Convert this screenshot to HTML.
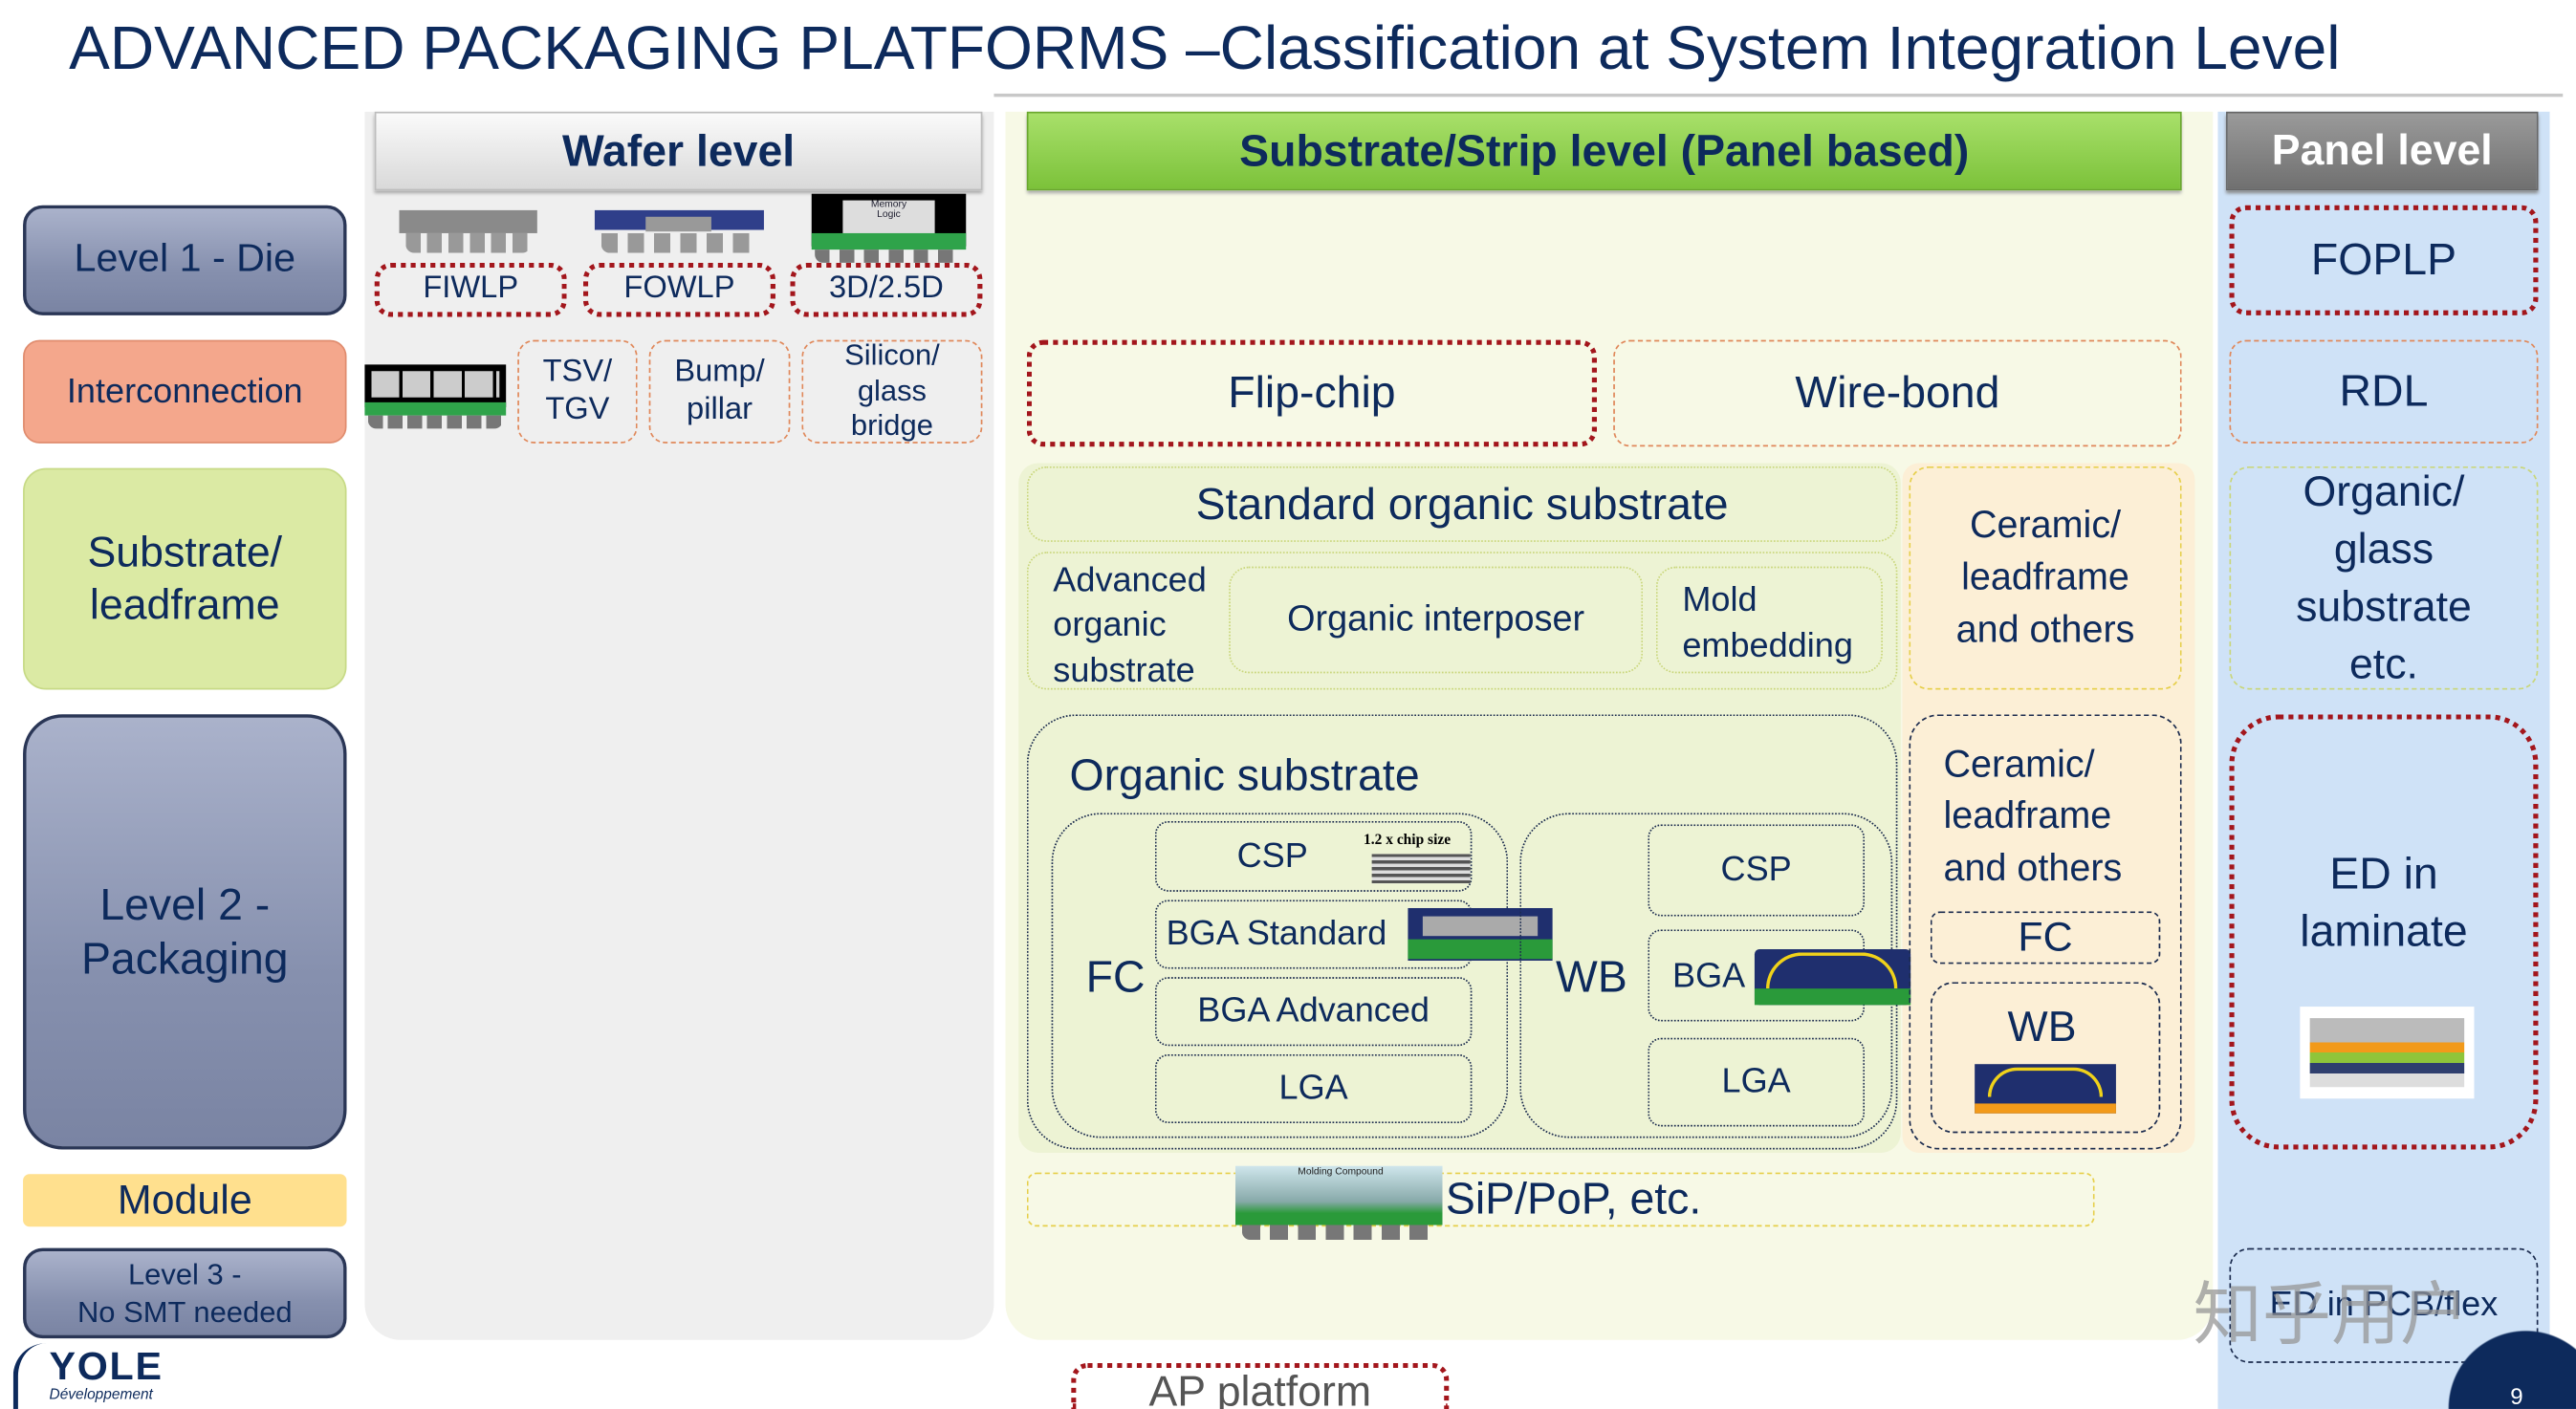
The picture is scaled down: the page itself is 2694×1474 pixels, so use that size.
<!DOCTYPE html>
<html><head><meta charset="utf-8">
<style>
html,body{margin:0;padding:0;background:#fff;width:2694px;height:1474px;overflow:hidden;}
body{position:relative;}
#c{position:absolute;left:0;top:0;width:1568px;height:858px;overflow:hidden;transform:scale(1.71811,1.7179);transform-origin:0 0;font-family:"Liberation Sans Narrow","Liberation Sans",sans-serif;color:#0d2a5c;}
.a{position:absolute;box-sizing:border-box;}
.b{position:absolute;box-sizing:border-box;display:flex;align-items:center;justify-content:center;text-align:center;line-height:1.2;color:#0d2a5c;}
.rd{border:3px dotted #a3161c;border-radius:10px;}
.od{border:1.5px dashed #e0885a;border-radius:10px;}
.gd{border:1.5px dotted #c9d67a;border-radius:12px;}
.yd{border:1.5px dashed #e6cf4a;border-radius:12px;}
.nd{border:1.5px dashed #1b2b4e;border-radius:12px;}
.nt{border:1.5px dotted #1b2b4e;border-radius:14px;}
.lv{border:2px solid #2a3656;border-radius:12px;background:linear-gradient(#aab2cb,#8690ae 60%,#7a84a3);}
</style></head><body>
<div id="c">
<div class="a" style="left:42px;top:8px;font-size:37.3px;white-space:nowrap;font-family:'Liberation Sans',sans-serif;color:#0d2a5c;">ADVANCED PACKAGING PLATFORMS –Classification at System Integration Level</div>
<div class="a" style="left:605px;top:57px;width:955px;height:2px;background:#c8c8c8;"></div>

<div class="a" style="left:222px;top:68px;width:383px;height:748px;background:#efefef;border-radius:0 0 22px 22px;"></div>
<div class="a" style="left:612px;top:68px;width:735px;height:748px;background:#f7f9e6;border-radius:0 0 22px 22px;"></div>
<div class="a" style="left:620px;top:282px;width:537px;height:420px;background:#edf3d4;border-radius:12px;"></div>
<div class="a" style="left:1158px;top:282px;width:178px;height:420px;background:#fcefd6;border-radius:10px;"></div>
<div class="a" style="left:1350px;top:68px;width:202px;height:790px;background:#cfe2f7;"></div>

<div class="b" style="left:228px;top:68px;width:370px;height:48px;background:linear-gradient(#fafafa,#d9d9d9);border:1px solid #bdbdbd;font-weight:bold;font-size:27px;font-family:'Liberation Sans',sans-serif;box-shadow:0 2px 2px #aaa;">Wafer level</div>
<div class="b" style="left:625px;top:68px;width:703px;height:48px;background:linear-gradient(#a8e06a,#7cc23a);border:1px solid #6aa82e;font-weight:bold;font-size:27px;font-family:'Liberation Sans',sans-serif;box-shadow:0 2px 2px #aaa;">Substrate/Strip level (Panel based)</div>
<div class="b" style="left:1355px;top:68px;width:190px;height:48px;background:linear-gradient(#9a9a9a,#707070);border:1px solid #666;font-weight:bold;font-size:26px;color:#fff;font-family:'Liberation Sans',sans-serif;box-shadow:0 2px 2px #888;">Panel level</div>

<div class="b lv" style="left:14px;top:125px;width:197px;height:67px;font-size:24px;">Level 1 - Die</div>
<div class="b" style="left:14px;top:207px;width:197px;height:63px;font-size:21px;background:#f4a78c;border:1px solid #e08c6e;border-radius:10px;">Interconnection</div>
<div class="b" style="left:14px;top:285px;width:197px;height:135px;font-size:26px;background:#dbeaa4;border:1px solid #c7da86;border-radius:14px;">Substrate/<br>leadframe</div>
<div class="b lv" style="left:14px;top:435px;width:197px;height:265px;font-size:27px;border-radius:24px;">Level 2 -<br>Packaging</div>
<div class="b" style="left:14px;top:715px;width:197px;height:32px;font-size:25px;background:#ffe08e;border-radius:4px;">Module</div>
<div class="b lv" style="left:14px;top:760px;width:197px;height:55px;font-size:18px;line-height:1.25;">Level 3 -<br>No SMT needed</div>

<div class="a" style="left:243px;top:128px;width:84px;height:14px;background:#8a8a8a;"></div>
<div class="a" style="left:247px;top:142px;width:76px;height:12px;background:repeating-linear-gradient(90deg,#999 0 9px,transparent 9px 13px);border-radius:0 0 5px 5px;"></div>
<div class="a" style="left:362px;top:128px;width:103px;height:12px;background:#2f3f8a;"></div>
<div class="a" style="left:393px;top:132px;width:40px;height:9px;background:#999;"></div>
<div class="a" style="left:366px;top:142px;width:96px;height:12px;background:repeating-linear-gradient(90deg,#999 0 10px,transparent 10px 16px);border-radius:0 0 5px 5px;"></div>
<div class="a" style="left:494px;top:118px;width:94px;height:32px;background:#000;"></div>
<div class="a" style="left:513px;top:122px;width:56px;height:22px;background:#ddd;font-size:6px;text-align:center;color:#223;">Memory<br>Logic</div>
<div class="a" style="left:494px;top:142px;width:94px;height:10px;background:#2fa34a;"></div>
<div class="a" style="left:496px;top:152px;width:90px;height:8px;background:repeating-linear-gradient(90deg,#777 0 9px,transparent 9px 15px);border-radius:0 0 5px 5px;"></div>

<div class="b rd" style="left:228px;top:160px;width:117px;height:33px;font-size:19px;">FIWLP</div>
<div class="b rd" style="left:355px;top:160px;width:117px;height:33px;font-size:19px;">FOWLP</div>
<div class="b rd" style="left:481px;top:160px;width:117px;height:33px;font-size:19px;">3D/2.5D</div>

<div class="a" style="left:222px;top:222px;width:86px;height:26px;background:#000;"></div>
<div class="a" style="left:226px;top:226px;width:78px;height:16px;background:repeating-linear-gradient(90deg,#ccc 0 17px,#000 17px 19px);"></div>
<div class="a" style="left:222px;top:245px;width:86px;height:8px;background:#2fa34a;"></div>
<div class="a" style="left:224px;top:253px;width:82px;height:8px;background:repeating-linear-gradient(90deg,#777 0 9px,transparent 9px 12px);border-radius:0 0 5px 5px;"></div>
<div class="b od" style="left:315px;top:207px;width:73px;height:63px;font-size:19px;">TSV/<br>TGV</div>
<div class="b od" style="left:395px;top:207px;width:86px;height:63px;font-size:19px;">Bump/<br>pillar</div>
<div class="b od" style="left:488px;top:207px;width:110px;height:63px;font-size:18px;">Silicon/<br>glass<br>bridge</div>

<div class="b rd" style="left:625px;top:207px;width:347px;height:65px;font-size:27px;">Flip-chip</div>
<div class="b od" style="left:982px;top:207px;width:346px;height:65px;font-size:27px;">Wire-bond</div>

<div class="b gd" style="left:625px;top:284px;width:530px;height:46px;font-size:27px;">Standard organic substrate</div>
<div class="a gd" style="left:625px;top:336px;width:530px;height:84px;"></div>
<div class="a" style="left:641px;top:340px;font-size:21px;line-height:1.3;">Advanced<br>organic<br>substrate</div>
<div class="b gd" style="left:748px;top:345px;width:252px;height:65px;font-size:22px;">Organic interposer</div>
<div class="a gd" style="left:1008px;top:345px;width:138px;height:65px;font-size:21px;line-height:1.35;padding:6px 0 0 15px;">Mold<br>embedding</div>
<div class="b yd" style="left:1162px;top:284px;width:166px;height:136px;font-size:23px;line-height:1.38;">Ceramic/<br>leadframe<br>and others</div>

<div class="a nt" style="left:625px;top:435px;width:530px;height:265px;border-radius:30px;"></div>
<div class="a" style="left:651px;top:457px;font-size:27px;">Organic substrate</div>
<div class="a nt" style="left:640px;top:495px;width:278px;height:198px;border-radius:30px;"></div>
<div class="a" style="left:661px;top:580px;font-size:27px;">FC</div>
<div class="b nt" style="left:703px;top:500px;width:193px;height:43px;font-size:21px;border-radius:8px;padding-right:50px;">CSP</div>
<div class="a" style="left:830px;top:506px;font-size:9px;font-family:'Liberation Serif',serif;font-weight:bold;color:#000;">1.2 x chip size</div>
<div class="a" style="left:835px;top:520px;width:60px;height:18px;background:repeating-linear-gradient(0deg,#555 0 2px,#ddd 2px 4px);"></div>
<div class="b nt" style="left:703px;top:548px;width:193px;height:42px;font-size:21px;border-radius:8px;padding-right:45px;">BGA Standard</div>
<div class="a" style="left:857px;top:553px;width:88px;height:32px;background:#1f2f6e;"></div>
<div class="a" style="left:866px;top:558px;width:70px;height:12px;background:#aaa;"></div>
<div class="a" style="left:857px;top:572px;width:88px;height:12px;background:#2a9a3a;"></div>
<div class="b nt" style="left:703px;top:595px;width:193px;height:42px;font-size:21px;border-radius:8px;">BGA Advanced</div>
<div class="b nt" style="left:703px;top:642px;width:193px;height:42px;font-size:21px;border-radius:8px;">LGA</div>

<div class="a nt" style="left:925px;top:495px;width:227px;height:198px;border-radius:30px;"></div>
<div class="a" style="left:947px;top:580px;font-size:27px;">WB</div>
<div class="b nt" style="left:1003px;top:502px;width:132px;height:56px;font-size:21px;border-radius:8px;">CSP</div>
<div class="a nt" style="left:1003px;top:566px;width:132px;height:56px;font-size:21px;border-radius:8px;padding:16px 0 0 14px;">BGA</div>
<div class="a" style="left:1068px;top:578px;width:95px;height:34px;background:#1f2f6e;border-radius:3px;"></div>
<div class="a" style="left:1075px;top:580px;width:80px;height:22px;border:2px solid #f0d21a;border-bottom:none;border-radius:40px 40px 0 0;"></div>
<div class="a" style="left:1068px;top:602px;width:95px;height:10px;background:#2a9a3a;"></div>
<div class="b nt" style="left:1003px;top:632px;width:132px;height:54px;font-size:21px;border-radius:8px;">LGA</div>

<div class="a nd" style="left:1162px;top:435px;width:166px;height:265px;border-radius:18px;"></div>
<div class="a" style="left:1183px;top:450px;font-size:23px;line-height:1.36;">Ceramic/<br>leadframe<br>and others</div>
<div class="b nd" style="left:1175px;top:555px;width:140px;height:32px;font-size:25px;border-radius:6px;">FC</div>
<div class="a nd" style="left:1175px;top:598px;width:140px;height:92px;border-radius:14px;"></div>
<div class="a" style="left:1222px;top:610px;font-size:26px;">WB</div>
<div class="a" style="left:1202px;top:648px;width:86px;height:30px;background:#1f2f6e;"></div>
<div class="a" style="left:1210px;top:650px;width:70px;height:18px;border:2px solid #f0d21a;border-bottom:none;border-radius:30px 30px 0 0;"></div>
<div class="a" style="left:1202px;top:672px;width:86px;height:6px;background:#f29a1a;"></div>

<div class="a yd" style="left:625px;top:714px;width:650px;height:33px;border-radius:6px;"></div>
<div class="a" style="left:752px;top:710px;width:126px;height:36px;background:linear-gradient(#cfe6ec,#8aa 60%,#2a9a3a 80%);"></div>
<div class="a" style="left:756px;top:746px;width:118px;height:9px;background:repeating-linear-gradient(90deg,#777 0 11px,transparent 11px 17px);border-radius:0 0 5px 5px;"></div>
<div class="a" style="left:790px;top:711px;font-size:6px;color:#222;">Molding Compound</div>
<div class="a" style="left:880px;top:715px;font-size:27px;">SiP/PoP, etc.</div>

<div class="b rd" style="left:1357px;top:125px;width:188px;height:67px;font-size:27px;">FOPLP</div>
<div class="b od" style="left:1357px;top:207px;width:188px;height:63px;font-size:27px;">RDL</div>
<div class="b gd" style="left:1357px;top:284px;width:188px;height:136px;font-size:26px;border-style:dashed;line-height:1.35;">Organic/<br>glass<br>substrate<br>etc.</div>
<div class="a rd" style="left:1357px;top:435px;width:188px;height:265px;border-radius:30px;"></div>
<div class="a" style="left:1357px;top:515px;width:188px;text-align:center;font-size:27px;line-height:1.3;">ED in<br>laminate</div>
<div class="a" style="left:1400px;top:613px;width:106px;height:56px;background:#fff;"></div>
<div class="a" style="left:1406px;top:620px;width:94px;height:42px;background:linear-gradient(#bbb 0 35%,#f29a1a 35% 50%,#8fc53a 50% 65%,#2f3f6e 65% 80%,#ddd 80%);"></div>
<div class="b nd" style="left:1357px;top:760px;width:188px;height:70px;font-size:21px;">ED in PCB/flex</div>
<div class="a" style="left:1335px;top:775px;font-size:42px;line-height:1.1;color:rgba(150,150,150,0.75);font-family:'Noto Sans CJK SC',sans-serif;">知乎用户</div>

<div class="a" style="left:652px;top:830px;width:230px;height:28px;border:3px dotted #a3161c;border-bottom:none;border-radius:10px 10px 0 0;overflow:hidden;text-align:center;font-size:26px;line-height:25px;padding-top:2px;color:#555;">AP platform</div>
<div class="a" style="left:1490px;top:810px;width:78px;height:48px;background:radial-gradient(circle 47.5px at 47.5px 47.5px,#0d2a5c 98%,transparent 100%);color:#fff;font-size:14px;line-height:16px;padding:32px 0 0 38px;">9</div>
<div class="a" style="left:30px;top:820px;font-size:24px;line-height:26px;font-weight:bold;color:#0d2a5c;font-family:'Liberation Sans',sans-serif;letter-spacing:1px;">YOLE</div>
<div class="a" style="left:30px;top:844px;font-size:9px;line-height:11px;font-style:italic;color:#0d2a5c;">Développement</div>
<div class="a" style="left:8px;top:818px;width:22px;height:40px;border-left:3px solid #0d2a5c;border-radius:20px 0 0 0;"></div>
</div>
</body></html>
